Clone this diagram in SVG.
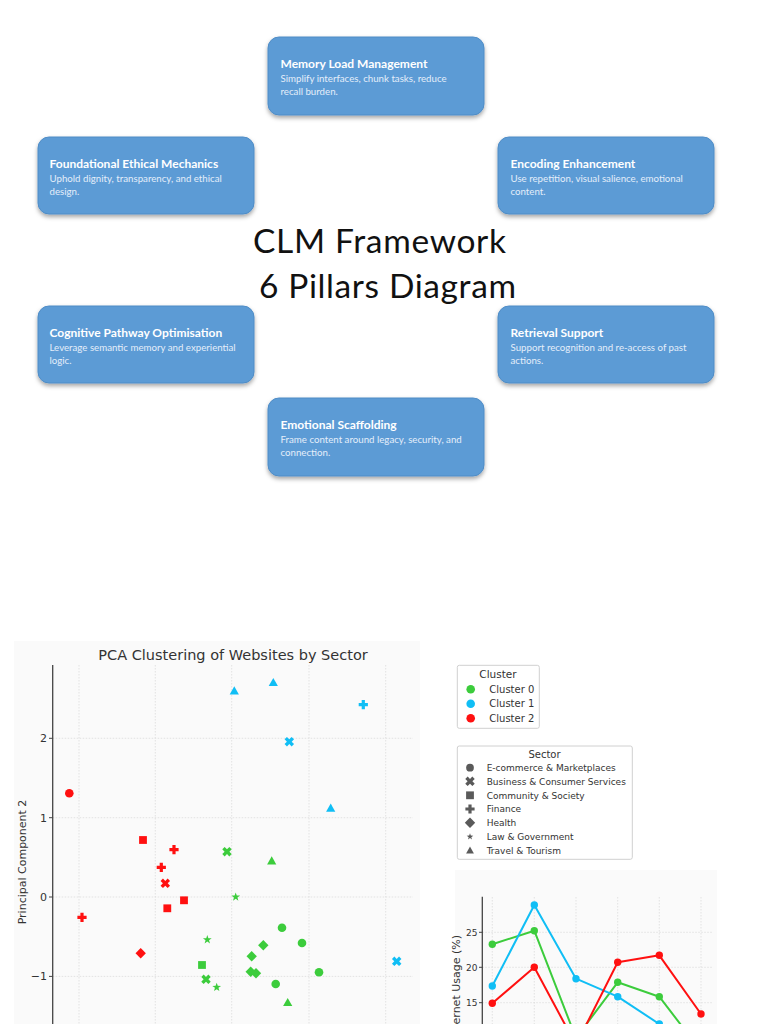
<svg xmlns="http://www.w3.org/2000/svg" xmlns:xlink="http://www.w3.org/1999/xlink" width="768" height="1024" viewBox="0 0 768 1024">
<defs>
<filter id="sh" x="-10%" y="-10%" width="120%" height="140%">
<feDropShadow dx="0" dy="2.5" stdDeviation="2" flood-color="#000" flood-opacity="0.35"/>
</filter>
<circle id="m-o" r="4.3"/>
<rect id="m-s" x="-3.9" y="-3.9" width="7.8" height="7.8"/>
<path id="m-d" d="M0,-5.2 L5.2,0 L0,5.2 L-5.2,0Z"/>
<path id="m-t" d="M0,-4.8 L4.6,3.4 L-4.6,3.4Z"/>
<path id="m-p" d="M-1.6,-4.6 H1.6 V-1.6 H4.6 V1.6 H1.6 V4.6 H-1.6 V1.6 H-4.6 V-1.6 H-1.6Z"/>
<path id="m-x" transform="rotate(45)" d="M-1.7,-5 H1.7 V-1.7 H5 V1.7 H1.7 V5 H-1.7 V1.7 H-5 V-1.7 H-1.7Z"/>
<path id="m-st" d="M0,-4.6 L1.08,-1.49 L4.37,-1.42 L1.75,0.57 L2.7,3.72 L0,1.84 L-2.7,3.72 L-1.75,0.57 L-4.37,-1.42 L-1.08,-1.49Z"/>
</defs>
<style>
.box{fill:#5b9bd5;stroke:#4f8cc6;stroke-width:1;filter:url(#sh)}
.bt{font-family:Lato,"Liberation Sans",sans-serif;font-weight:bold;font-size:12px;fill:#ffffff}
.bd{font-family:Lato,"Liberation Sans",sans-serif;font-size:9.7px;fill:#e4eefa}
.ttl{font-family:Lato,"Liberation Sans",sans-serif;font-size:33.5px;fill:#111}
.cf{font-family:"DejaVu Sans",sans-serif;fill:#333}
.grid{stroke:#dcdcdc;stroke-width:0.8;stroke-dasharray:1.5,1.5;fill:none}
.ax{stroke:#444;stroke-width:1.3;fill:none}
.g{fill:#3ccc3c}.c{fill:#10bef5}.r{fill:#ff1010}
.lg{fill:#5a5a5a}
.leg{fill:#fff;stroke:#d0d0d0;stroke-width:1}
.ln{fill:none;stroke-width:2;stroke-linejoin:round}
</style>
<rect width="768" height="1024" fill="#ffffff"/>

<g id="title">
<text class="ttl" x="253" y="253" textLength="253">CLM Framework</text>
<text class="ttl" x="259" y="298" textLength="257">6 Pillars Diagram</text>
</g>

<g id="connectors"></g>

<g id="node-memory">
<rect class="box" x="268" y="37" width="216" height="78" rx="11"/>
<text class="bt" x="280.5" y="67.5">Memory Load Management</text>
<text class="bd" x="280.5" y="81.5">Simplify interfaces, chunk tasks, reduce</text>
<text class="bd" x="280.5" y="94.5">recall burden.</text>
</g>
<g id="node-foundational">
<rect class="box" x="38" y="137" width="216" height="77" rx="11"/>
<text class="bt" x="49.5" y="167.5">Foundational Ethical Mechanics</text>
<text class="bd" x="49.5" y="181.5">Uphold dignity, transparency, and ethical</text>
<text class="bd" x="49.5" y="194.5">design.</text>
</g>
<g id="node-encoding">
<rect class="box" x="498" y="137" width="216" height="77" rx="11"/>
<text class="bt" x="510.5" y="167.5">Encoding Enhancement</text>
<text class="bd" x="510.5" y="181.5">Use repetition, visual salience, emotional</text>
<text class="bd" x="510.5" y="194.5">content.</text>
</g>
<g id="node-cognitive">
<rect class="box" x="38" y="306" width="216" height="77" rx="11"/>
<text class="bt" x="49.5" y="336.5">Cognitive Pathway Optimisation</text>
<text class="bd" x="49.5" y="350.5">Leverage semantic memory and experiential</text>
<text class="bd" x="49.5" y="363.5">logic.</text>
</g>
<g id="node-retrieval">
<rect class="box" x="498" y="306" width="216" height="77" rx="11"/>
<text class="bt" x="510.5" y="336.5">Retrieval Support</text>
<text class="bd" x="510.5" y="350.5">Support recognition and re-access of past</text>
<text class="bd" x="510.5" y="363.5">actions.</text>
</g>
<g id="node-emotional">
<rect class="box" x="268" y="398" width="216" height="78" rx="11"/>
<text class="bt" x="280.5" y="428.5">Emotional Scaffolding</text>
<text class="bd" x="280.5" y="442.5">Frame content around legacy, security, and</text>
<text class="bd" x="280.5" y="455.5">connection.</text>
</g>

<!-- scatter chart -->
<g id="scatter">
<rect x="14" y="641" width="406" height="383" fill="#fafafa"/>
<text class="cf" x="233" y="660" font-size="14.5" text-anchor="middle">PCA Clustering of Websites by Sector</text>
<g class="grid">
<path d="M79,665V1024M155.3,665V1024M231.7,665V1024M309,665V1024M385.7,665V1024"/>
<path d="M52.7,738.3H413M52.7,817.7H413M52.7,897H413M52.7,976.4H413"/>
</g>
<path class="ax" d="M52.7,665V1024"/>
<path d="M49,738.3H52.7M49,817.7H52.7M49,897H52.7M49,976.4H52.7" stroke="#444" stroke-width="1"/>
<g class="cf" font-size="11" text-anchor="end">
<text x="47" y="742.3">2</text>
<text x="47" y="821.7">1</text>
<text x="47" y="901">0</text>
<text x="47" y="980.4">−1</text>
</g>
<text class="cf" font-size="11" text-anchor="middle" transform="translate(26,862) rotate(-90)">Principal Component 2</text>
<g class="c">
<use href="#m-t" x="234.3" y="691"/>
<use href="#m-t" x="273.3" y="682.7"/>
<use href="#m-p" x="363.3" y="704.7"/>
<use href="#m-x" x="289.3" y="741.7"/>
<use href="#m-t" x="330.7" y="808.3"/>
<use href="#m-x" x="396.7" y="961.3"/>
</g>
<g class="r">
<use href="#m-o" x="69.3" y="793.3"/>
<use href="#m-s" x="143" y="840"/>
<use href="#m-p" x="174" y="849.7"/>
<use href="#m-p" x="161.3" y="867.3"/>
<use href="#m-x" x="165.3" y="883.3"/>
<use href="#m-s" x="184" y="900.3"/>
<use href="#m-s" x="167.3" y="908.3"/>
<use href="#m-p" x="82" y="917.3"/>
<use href="#m-d" x="140.7" y="953.3"/>
</g>
<g class="g">
<use href="#m-x" x="227" y="851.7"/>
<use href="#m-t" x="271.7" y="861"/>
<use href="#m-st" x="235.7" y="897"/>
<use href="#m-o" x="282" y="927.7"/>
<use href="#m-st" x="207.3" y="939.7"/>
<use href="#m-o" x="302" y="943"/>
<use href="#m-d" x="263.3" y="945.3"/>
<use href="#m-d" x="251.7" y="956.3"/>
<use href="#m-s" x="202" y="965"/>
<use href="#m-o" x="319" y="972.3"/>
<use href="#m-d" x="250.7" y="971.7"/>
<use href="#m-d" x="256" y="973.3"/>
<use href="#m-o" x="275.7" y="984"/>
<use href="#m-x" x="206" y="979.3"/>
<use href="#m-st" x="216.7" y="987.3"/>
<use href="#m-t" x="287.7" y="1002.7"/>
</g>
</g>

<!-- legends -->
<g id="legend-cluster">
<rect class="leg" x="457.3" y="665.3" width="82" height="63" rx="2"/>
<text class="cf" x="498" y="678" font-size="10.5" text-anchor="middle">Cluster</text>
<circle class="g" cx="470.7" cy="689.3" r="4.3"/>
<circle class="c" cx="470.7" cy="703.7" r="4.3"/>
<circle class="r" cx="470.7" cy="718.3" r="4.3"/>
<g class="cf" font-size="10">
<text x="489.3" y="692.8">Cluster 0</text>
<text x="489.3" y="707.2">Cluster 1</text>
<text x="489.3" y="721.8">Cluster 2</text>
</g>
</g>
<g id="legend-sector">
<rect class="leg" x="457.3" y="746" width="175" height="113.3" rx="2"/>
<text class="cf" x="544.5" y="757.5" font-size="10" text-anchor="middle">Sector</text>
<g class="lg">
<use href="#m-o" x="470" y="767.7" transform="translate(470 767.7) scale(0.9) translate(-470 -767.7)"/>
<use href="#m-x" x="470" y="781.3"/>
<use href="#m-s" x="470" y="795.3"/>
<use href="#m-p" x="470" y="809"/>
<use href="#m-d" x="470" y="822.7"/>
<use href="#m-st" x="470" y="836.7" transform="translate(470 836.7) scale(0.75) translate(-470 -836.7)"/>
<use href="#m-t" x="470" y="850.7" transform="translate(470 850.7) scale(0.85) translate(-470 -850.7)"/>
</g>
<g class="cf" font-size="9">
<text x="486.7" y="770.9">E-commerce &amp; Marketplaces</text>
<text x="486.7" y="784.5">Business &amp; Consumer Services</text>
<text x="486.7" y="798.5">Community &amp; Society</text>
<text x="486.7" y="812.2">Finance</text>
<text x="486.7" y="825.9">Health</text>
<text x="486.7" y="839.9">Law &amp; Government</text>
<text x="486.7" y="853.9">Travel &amp; Tourism</text>
</g>
</g>

<!-- line chart -->
<g id="linechart">
<rect x="455" y="870" width="262" height="154" fill="#fafafa"/>
<g class="grid">
<path d="M492.3,897V1024M534.3,897V1024M576,897V1024M617.7,897V1024M659.3,897V1024M701,897V1024"/>
<path d="M482.3,932.3H712M482.3,967.3H712M482.3,1002.7H712"/>
</g>
<path class="ax" d="M482.3,896.7V1024"/>
<path d="M479,932.3H482.3M479,967.3H482.3M479,1002.7H482.3" stroke="#444" stroke-width="1"/>
<g class="cf" font-size="9" text-anchor="end">
<text x="477.5" y="935.5">25</text>
<text x="477.5" y="970.5">20</text>
<text x="477.5" y="1005.9">15</text>
</g>
<text class="cf" font-size="11" text-anchor="end" transform="translate(459.5,935) rotate(-90)">Internet Usage (%)</text>
<polyline class="ln" stroke="#3ccc3c" points="492.3,944.3 534.3,930.7 576,1038 617.7,982.3 659.3,996.7 701,1051"/>
<polyline class="ln" stroke="#10bef5" points="492.3,986 534.3,905 576,978.7 617.7,996.7 659.3,1024 701,1045"/>
<polyline class="ln" stroke="#ff1010" points="492.3,1003.3 534.3,967.3 576,1045 617.7,962.3 659.3,955.3 701,1014"/>
<g class="g">
<circle cx="492.3" cy="944.3" r="3.7"/><circle cx="534.3" cy="930.7" r="3.7"/><circle cx="617.7" cy="982.3" r="3.7"/><circle cx="659.3" cy="996.7" r="3.7"/>
</g>
<g class="c">
<circle cx="492.3" cy="986" r="3.7"/><circle cx="534.3" cy="905" r="3.7"/><circle cx="576" cy="978.7" r="3.7"/><circle cx="617.7" cy="996.7" r="3.7"/><circle cx="659.3" cy="1024" r="3.7"/>
</g>
<g class="r">
<circle cx="492.3" cy="1003.3" r="3.7"/><circle cx="534.3" cy="967.3" r="3.7"/><circle cx="617.7" cy="962.3" r="3.7"/><circle cx="659.3" cy="955.3" r="3.7"/><circle cx="701" cy="1014" r="3.7"/>
</g>
</g>
</svg>
